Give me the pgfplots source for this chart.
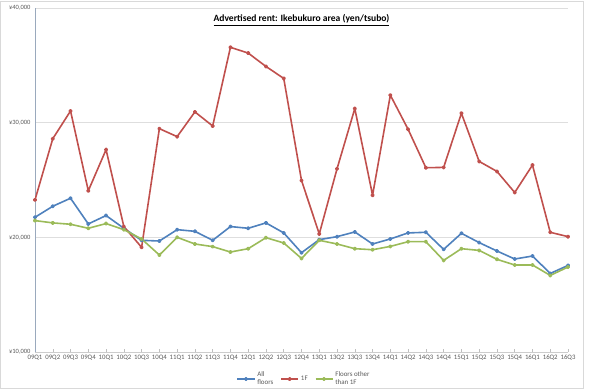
\documentclass[border=0pt]{standalone}
\usepackage{fontspec}
\setmainfont{Carlito}
\usepackage{pgfplots}
\pgfplotsset{compat=1.18}
\definecolor{cblue}{HTML}{4F81BD}
\definecolor{cred}{HTML}{C0504D}
\definecolor{cgreen}{HTML}{9BBB59}
\definecolor{axgray}{HTML}{9AA9BD}
\definecolor{lblgray}{HTML}{595959}
\begin{document}
\begin{tikzpicture}[x=1bp,y=1bp]
\path[use as bounding box] (0,0) rectangle (600,391);
\draw[black!15, line width=0.6bp] (0.5,3) rectangle (583,390);
\begin{axis}[
  at={(35bp,39bp)}, anchor=south west,
  scale only axis, width=533bp, height=344bp,
  xmin=0, xmax=30, ymin=10000, ymax=40000,
  scaled y ticks=false, scaled x ticks=false,
  xtick={0,...,30},
  xticklabels={09Q1,09Q2,09Q3,09Q4,10Q1,10Q2,10Q3,10Q4,11Q1,11Q2,11Q3,11Q4,12Q1,12Q2,12Q3,12Q4,13Q1,13Q2,13Q3,13Q4,14Q1,14Q2,14Q3,14Q4,15Q1,15Q2,15Q3,15Q4,16Q1,16Q2,16Q3},
  ytick={10000,20000,30000,40000},
  yticklabels={{¥10,000},{¥20,000},{¥30,000},{¥40,000}},
  ymajorgrids, grid style={black!13, line width=0.6bp},
  axis x line*=bottom, axis y line*=left,
  x axis line style={black!20, line width=0.6bp, -},
  y axis line style={axgray, line width=0.8bp, -},
  xtick style={black!25, line width=0.5bp},
  ytick style={draw=none},
  major tick length=3bp,
  xtick pos=bottom,
  tick align=inside,
  xticklabel style={font=\fontsize{6.8}{8}\selectfont, text=lblgray, yshift=0.5bp},
  yticklabel style={font=\fontsize{6.5}{7}\selectfont, text=lblgray, xshift=-1bp, inner ysep=0.5bp},
  legend columns=3,
  legend style={draw=none, fill=none, at={(0.505,-0.0785)}, anchor=center,
    font=\fontsize{7}{8}\selectfont, text=lblgray, nodes={align=left},
    /tikz/every even column/.append style={column sep=5bp}},
  every axis plot/.append style={line width=1.6bp, mark=*, mark size=1.3bp, line join=round},
]
\addplot[cblue, mark options={fill=cblue}] coordinates {
(0,21750)(1,22710)(2,23410)(3,21170)(4,21900)(5,20790)(6,19740)(7,19680)
(8,20670)(9,20525)(10,19740)(11,20940)(12,20790)(13,21260)(14,20385)(15,18660)
(16,19800)(17,20060)(18,20470)(19,19420)(20,19860)(21,20385)(22,20440)(23,18950)
(24,20350)(25,19540)(26,18810)(27,18110)(28,18370)(29,16850)(30,17550)};
\addlegendentry{All\\floors}
\addplot[cred, mark options={fill=cred}] coordinates {
(0,23270)(1,28600)(2,31020)(3,24060)(4,27650)(5,20940)(6,19130)(7,29480)
(8,28780)(9,30940)(10,29710)(11,36570)(12,36070)(13,34900)(14,33860)(15,24960)
(16,20300)(17,25980)(18,31230)(19,23670)(20,32400)(21,29420)(22,26070)(23,26100)
(24,30820)(25,26620)(26,25750)(27,23910)(28,26300)(29,20440)(30,20060)};
\addlegendentry{1F}
\addplot[cgreen, mark options={fill=cgreen}] coordinates {
(0,21460)(1,21260)(2,21140)(3,20790)(4,21200)(5,20670)(6,19860)(7,18460)
(8,20000)(9,19420)(10,19190)(11,18720)(12,19010)(13,19970)(14,19510)(15,18160)
(16,19740)(17,19420)(18,19010)(19,18920)(20,19210)(21,19620)(22,19620)(23,17990)
(24,19010)(25,18860)(26,18080)(27,17590)(28,17590)(29,16680)(30,17410)};
\addlegendentry{Floors other\\than 1F}
\end{axis}
\node[font=\fontsize{9.6}{11}\selectfont\bfseries] at (301.5,371) {\underline{Advertised rent: Ikebukuro area (yen/tsubo)}};
\end{tikzpicture}
\end{document}
